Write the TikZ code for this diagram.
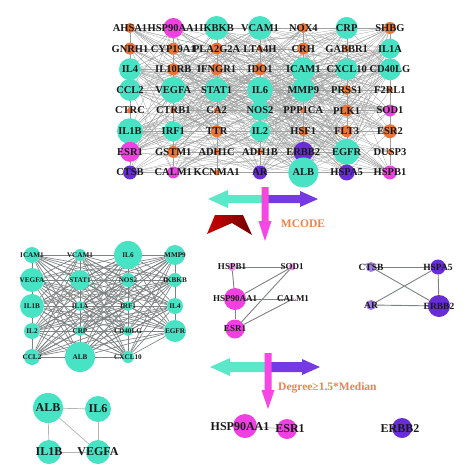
\documentclass[tikz,border=0pt]{standalone}
\usepackage{fontspec}
\setmainfont{Liberation Serif}
\usetikzlibrary{backgrounds}
\definecolor{tq}{RGB}{72,226,196}
\definecolor{mg}{RGB}{240,64,226}
\definecolor{lmg}{RGB}{244,150,238}
\definecolor{pp}{RGB}{104,44,216}
\definecolor{lpp}{RGB}{160,125,232}
\definecolor{og}{RGB}{232,118,58}
\definecolor{lbl}{RGB}{232,132,76}
\definecolor{atq}{RGB}{92,232,200}
\definecolor{amg}{RGB}{246,70,230}
\definecolor{app}{RGB}{118,58,228}
\definecolor{edg}{RGB}{160,162,162}
\definecolor{cedg}{RGB}{125,130,130}
\begin{document}
\begin{tikzpicture}[x=1pt,y=-1pt,
  dot/.style={circle,draw=none,inner sep=0pt},
  toplab/.style={inner sep=0pt,font=\fontsize{10.5}{10.5}\selectfont\bfseries,text=black!90},
  clab/.style={inner sep=0pt,font=\fontsize{7.2}{7.2}\selectfont\bfseries,text=black!90},
  midlab/.style={inner sep=0pt,font=\fontsize{9}{9}\selectfont\bfseries,text=black!90},
  botlab/.style={inner sep=0pt,font=\fontsize{12}{12}\selectfont\bfseries,text=black!90},
  steplab/.style={inner sep=0pt,font=\fontsize{11.5}{11.5}\selectfont\bfseries,text=lbl},
  topedge/.style={draw=edg,line width=0.28pt},
  cedge/.style={draw=cedg,line width=0.65pt},
  medge/.style={draw=cedg,line width=0.9pt},
  bedge/.style={draw=edg!80,line width=0.7pt}]
\begin{pgfonlayer}{background}
\fill[white] (0,0) rectangle (474,474);
\end{pgfonlayer}
\useasboundingbox (0,0) rectangle (474,474);

% ---------- top network ----------
\def\toplist{AHSA1/og/5, HSP90AA1/mg/10, IKBKB/tq/12, VCAM1/tq/12, NOX4/og/5, CRP/tq/11, SHBG/og/6,
GNRH1/og/6, CYP19A1/og/6, PLA2G2A/og/6, LTA4H/og/3, CRH/og/6, GABBR1/og/3, IL1A/tq/10,
IL4/tq/11, IL10RB/og/6, IFNGR1/og/6, IDO1/og/6, ICAM1/tq/12, CXCL10/tq/11, CD40LG/tq/11,
CCL2/tq/11, VEGFA/tq/13, STAT1/tq/12, IL6/tq/13, MMP9/tq/12, PRSS1/og/5, F2RL1/og/3,
CTRC/og/3, CTRB1/og/3, CA2/og/3, NOS2/tq/10, PPP1CA/og/3, PLK1/og/6, SOD1/mg/6,
IL1B/tq/13, IRF1/tq/10, TTR/og/6, IL2/tq/10, HSF1/og/5, FLT3/og/6, ESR2/og/7,
ESR1/mg/10, GSTM1/og/6, ADH1C/og/3, ADH1B/og/3, ERBB2/pp/10, EGFR/tq/13, DUSP3/og/3,
CTSB/pp/7, CALM1/mg/6, KCNMA1/og/3, AR/pp/7, ALB/tq/15, HSPA5/pp/8, HSPB1/mg/7}
\def\radarr{{5,10,12,12,5,11,6, 6,6,6,3,6,3,10, 11,6,6,6,12,11,11, 11,13,12,13,12,5,3, 3,3,3,10,3,6,6, 13,10,6,10,5,6,7, 10,6,3,3,10,13,3, 7,6,3,7,15,8,7}}
\foreach \nm/\cl/\rr [count=\k from 0] in \toplist {
  \pgfmathsetmacro\xx{130+mod(\k,7)*43.33}
  \pgfmathsetmacro\yy{28+floor(\k/7)*20.64}
  \node[dot,fill=\cl,minimum size=2*\rr] (n\k) at (\xx,\yy) {};
}
\foreach \nm/\cl/\rr [count=\k from 0] in \toplist {
  \node[toplab] at (n\k) {\nm};
}
\pgfmathsetseed{4242}
\begin{pgfonlayer}{background}
\foreach \i in {0,...,55}{
  \foreach \j in {0,...,55}{
    \ifnum\j>\i
      \pgfmathsetmacro\ri{\radarr[\i]}
      \pgfmathsetmacro\rj{\radarr[\j]}
      \pgfmathtruncatemacro\hit{(rnd < \ri*\rj/200) ? 1 : 0}
      \ifnum\hit=1 \draw[topedge] (n\i) -- (n\j); \fi
    \fi
  }
}
\end{pgfonlayer}

% ---------- first arrow cross ----------
\fill[atq] (263,195) -- (228,195) -- (228,190) -- (208,199) -- (228,208) -- (228,203) -- (263,203) -- cycle;
\fill[app] (268,195) -- (300,195) -- (300,191) -- (318,199) -- (300,207) -- (300,203) -- (268,203) -- cycle;
\fill[amg] (261.5,187) -- (268.5,187) -- (268.5,221) -- (271.5,221) -- (265,241) -- (258.5,221) -- (261.5,221) -- cycle;
\shade[left color=red!80!black,right color=red!45!black] (207,234) -- (215,215) -- (243,215) -- (252,235) -- (232,223) -- cycle;
\node[steplab] (mcode) at (303,224) {MCODE};

% ---------- left MCODE cluster ----------
\foreach \nm/\xx/\yy/\rr [count=\k] in {ICAM1/32/255/8, VCAM1/80/255/6, IL6/128/255/14, MMP9/175/255/10,
  VEGFA/32/280/12, STAT1/80/280/10, NOS2/128/280/7, IKBKB/175/280/7,
  IL1B/32/306/12, IL1A/80/306/5, IRF1/128/306/5, IL4/175/306/8,
  IL2/32/331/8, CRP/80/331/5, CD40LG/128/331/5, EGFR/175/331/11,
  CCL2/32/357/8, ALB/80/357/15, CXCL10/128/357/6} {
  \node[dot,fill=tq,minimum size=2*\rr] (c\k) at (\xx,\yy) {};
  \node[clab] at (c\k) {\nm};
}
\begin{pgfonlayer}{background}
\foreach \i in {1,...,19}{
  \foreach \j in {1,...,19}{
    \ifnum\j>\i \draw[cedge] (c\i) -- (c\j); \fi
  }
}
\end{pgfonlayer}

% ---------- middle cluster ----------
\node[dot,fill=lmg,minimum size=8] (m1) at (232,267) {};
\node[dot,fill=lmg,minimum size=7] (m2) at (292,267) {};
\node[dot,fill=mg,minimum size=22] (m3) at (235,299) {};
\node[dot,fill=lmg,minimum size=3] (m4) at (293,299) {};
\node[dot,fill=mg,minimum size=19] (m5) at (235,329) {};
\begin{pgfonlayer}{background}
\draw[medge] (m1) -- (m2);
\draw[medge] (m1) -- (m3);
\draw[medge] (m3) -- (m5);
\draw[medge] (m3) -- (m4);
\draw[medge] (m3) -- (m2);
\draw[medge] (m5) -- (m2);
\draw[medge] (m5) -- (m4);
\end{pgfonlayer}
\node[midlab] at (m1) {HSPB1};
\node[midlab] at (m2) {SOD1};
\node[midlab] at (m3) {HSP90AA1};
\node[midlab] at (m4) {CALM1};
\node[midlab] at (m5) {ESR1};

% ---------- right cluster ----------
\node[dot,fill=lpp,minimum size=10] (r1) at (371,267) {};
\node[dot,fill=pp,minimum size=15] (r2) at (438,267) {};
\node[dot,fill=lpp,minimum size=10] (r3) at (371,305) {};
\node[dot,fill=pp,minimum size=22] (r4) at (439,306) {};
\begin{pgfonlayer}{background}
\draw[medge] (r1) -- (r2);
\draw[medge] (r2) -- (r4);
\draw[medge] (r3) -- (r4);
\draw[medge] (r1) -- (r4);
\draw[medge] (r3) -- (r2);
\end{pgfonlayer}
\node[midlab,font=\fontsize{9.5}{9.5}\selectfont\bfseries] at (r1) {CTSB};
\node[midlab,font=\fontsize{9.5}{9.5}\selectfont\bfseries] at (r2) {HSPA5};
\node[midlab,font=\fontsize{9.5}{9.5}\selectfont\bfseries] at (r3) {AR};
\node[midlab,font=\fontsize{9.5}{9.5}\selectfont\bfseries] at (r4) {ERBB2};

% ---------- second arrow cross ----------
\fill[atq] (265,362) -- (230,362) -- (230,358) -- (210,367) -- (230,376) -- (230,372) -- (265,372) -- cycle;
\fill[app] (271,362) -- (302,362) -- (302,359) -- (320,367) -- (302,375) -- (302,372) -- (271,372) -- cycle;
\fill[amg] (264.5,353) -- (271.5,353) -- (271.5,390) -- (274.5,390) -- (268,409) -- (261.5,390) -- (264.5,390) -- cycle;
\node[steplab,anchor=west] (deg) at (278,388) {Degree≥1.5*Median};

% ---------- bottom results ----------
\node[dot,fill=tq,minimum size=30] (b1) at (48,408) {};
\node[dot,fill=tq,minimum size=26] (b2) at (98,409) {};
\node[dot,fill=tq,minimum size=24] (b3) at (49,452) {};
\node[dot,fill=tq,minimum size=24] (b4) at (98,452) {};
\begin{pgfonlayer}{background}
\draw[bedge] (b1) -- (b2);
\draw[bedge] (b1) -- (b3);
\draw[bedge] (b1) -- (b4);
\draw[bedge] (b2) -- (b4);
\draw[bedge] (b3) -- (b4);
\end{pgfonlayer}
\node[botlab] at (b1) {ALB};
\node[botlab] at (b2) {IL6};
\node[botlab] at (b3) {IL1B};
\node[botlab] at (98,452) {VEGFA};

\node[dot,fill=mg,minimum size=24] (h1) at (245,426) {};
\node[dot,fill=mg,minimum size=20] (h2) at (287,429) {};
\begin{pgfonlayer}{background}
\draw[bedge] (h1) -- (h2);
\end{pgfonlayer}
\node[botlab] at (240,427) {HSP90AA1};
\node[botlab] at (290,429) {ESR1};
\node[dot,fill=pp,minimum size=20] (e1) at (402,428) {};
\node[botlab] at (400,429) {ERBB2};
\end{tikzpicture}
\end{document}
